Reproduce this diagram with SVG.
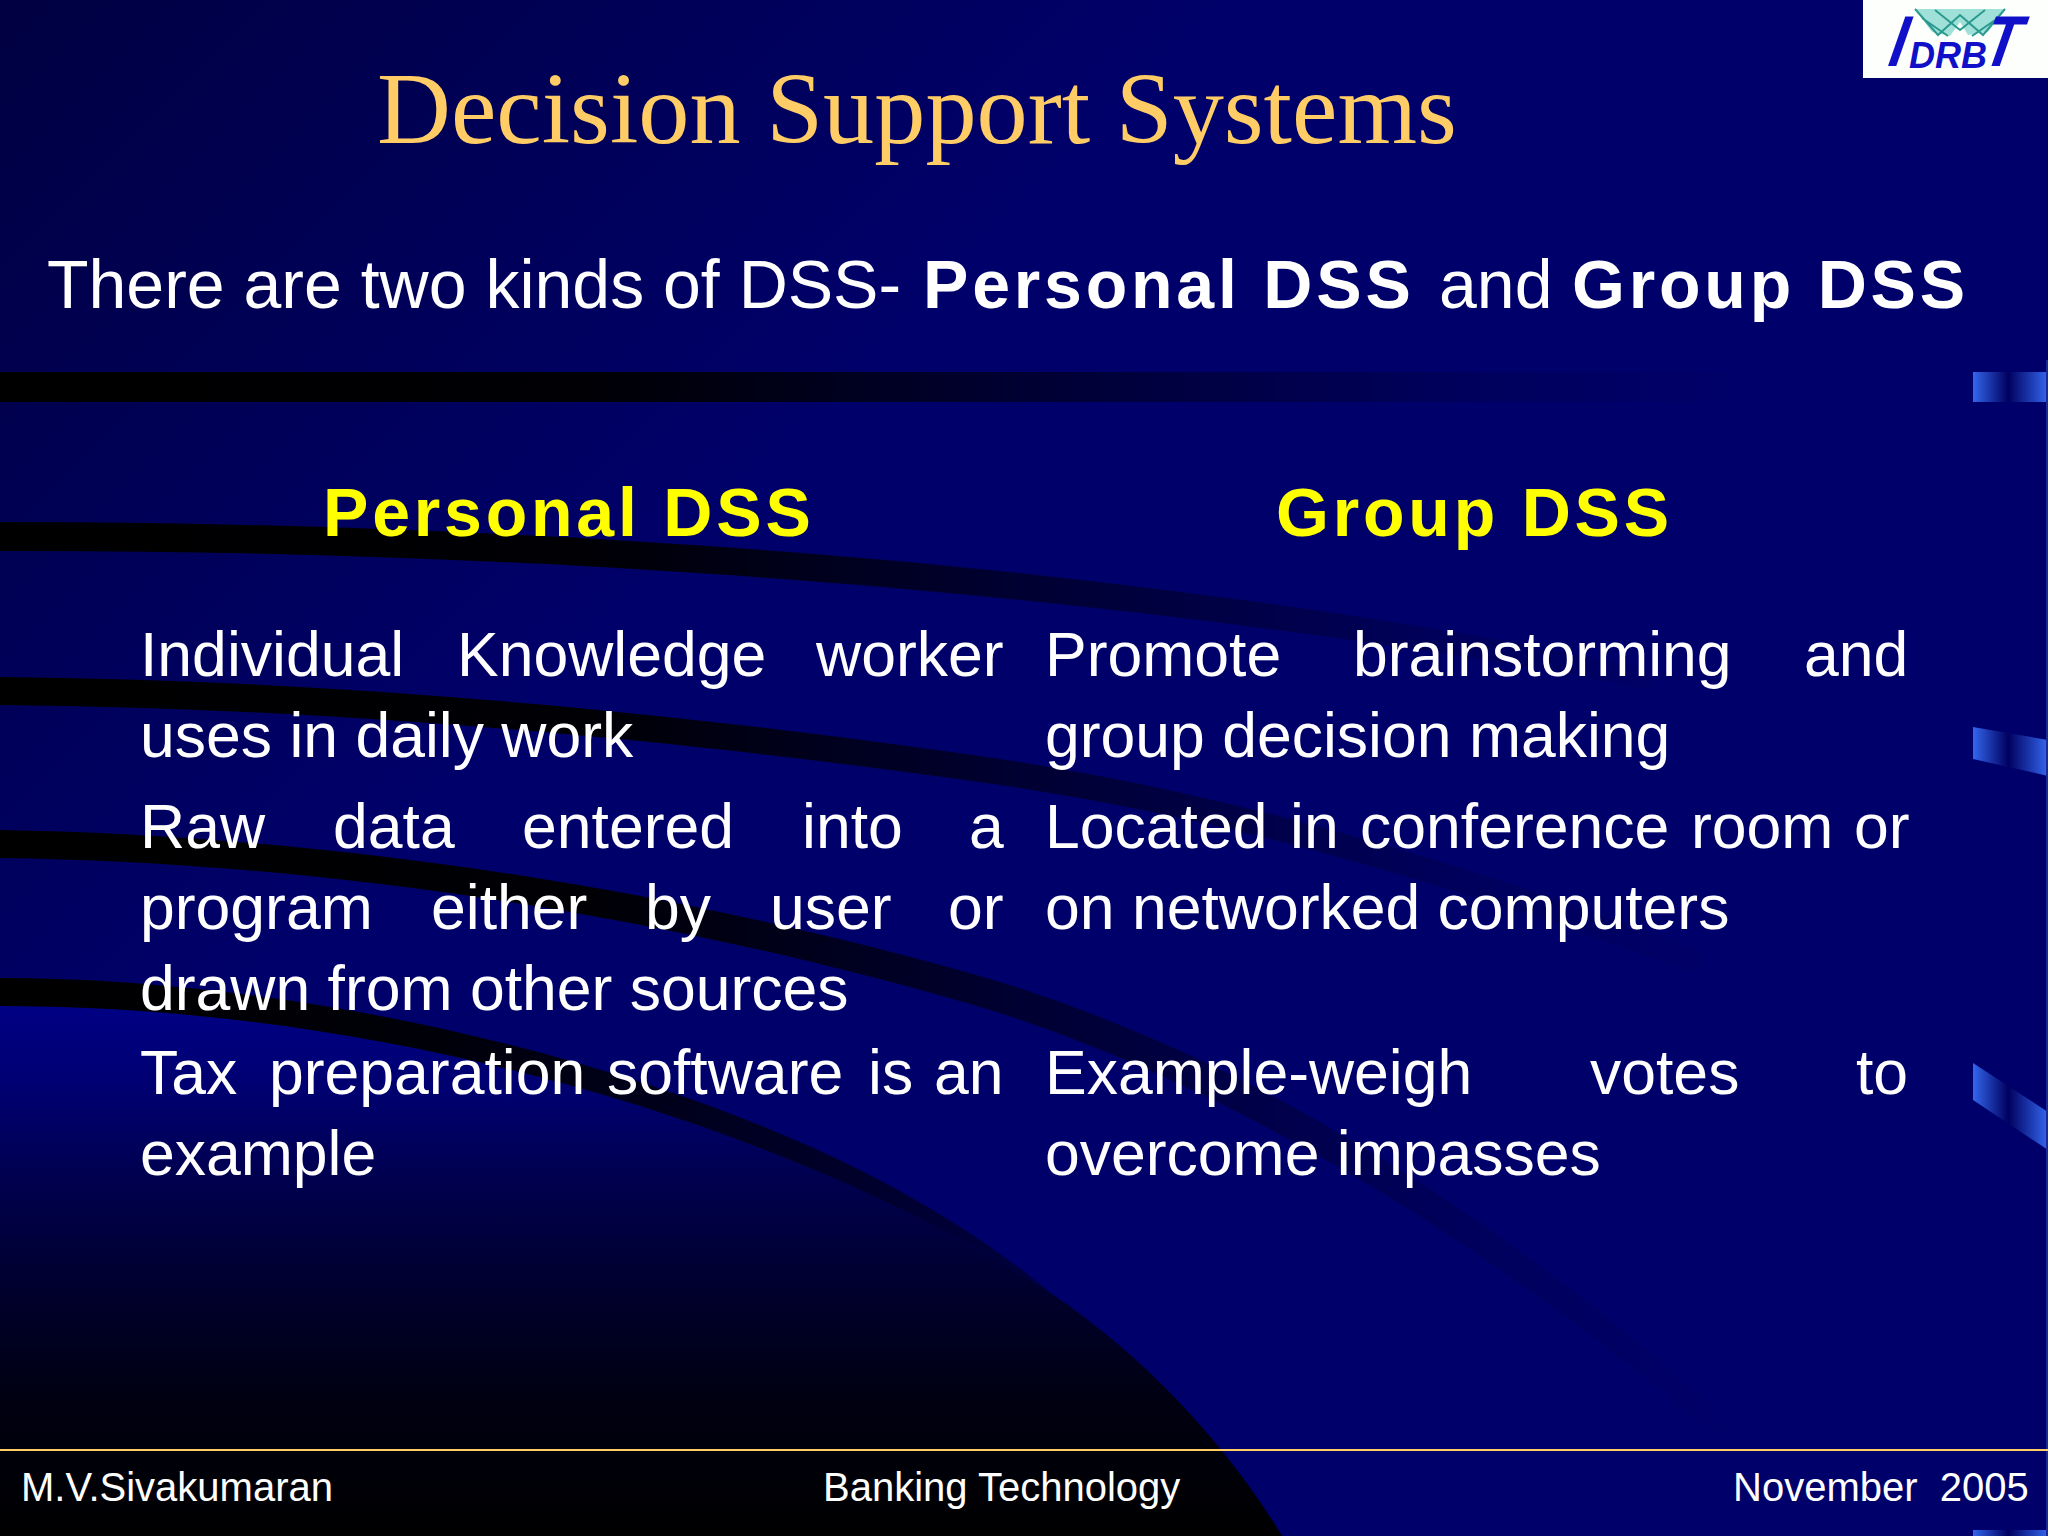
<svg xmlns="http://www.w3.org/2000/svg" width="2048" height="1536" viewBox="0 0 2048 1536">
<defs>
<linearGradient id="tl" gradientUnits="userSpaceOnUse" x1="0" y1="0" x2="620" y2="620"><stop offset="0" stop-color="#000" stop-opacity="0.38"/><stop offset="1" stop-color="#000" stop-opacity="0"/></linearGradient>
<linearGradient id="fade" gradientUnits="userSpaceOnUse" x1="0" y1="0" x2="1750" y2="0"><stop offset="0" stop-color="#000" stop-opacity="1"/><stop offset="0.34" stop-color="#000" stop-opacity="0.95"/><stop offset="0.57" stop-color="#000" stop-opacity="0.55"/><stop offset="0.83" stop-color="#000" stop-opacity="0.14"/><stop offset="1" stop-color="#000" stop-opacity="0"/></linearGradient>
<linearGradient id="low" gradientUnits="userSpaceOnUse" x1="0" y1="1006" x2="0" y2="1536"><stop offset="0" stop-color="#000084"/><stop offset="0.16" stop-color="#000070"/><stop offset="0.32" stop-color="#000050"/><stop offset="0.53" stop-color="#00002e"/><stop offset="0.74" stop-color="#000012"/><stop offset="1" stop-color="#000000"/></linearGradient>
<linearGradient id="b5" gradientUnits="userSpaceOnUse" x1="0" y1="0" x2="1052" y2="0"><stop offset="0" stop-color="#000000"/><stop offset="0.4" stop-color="#000008"/><stop offset="0.8" stop-color="#00002a"/><stop offset="1" stop-color="#000040"/></linearGradient>
<linearGradient id="tab" x1="0" y1="0" x2="1" y2="0"><stop offset="0" stop-color="#3366ee"/><stop offset="0.47" stop-color="#000060"/><stop offset="1" stop-color="#3366ee"/></linearGradient>
<style>
.b{font-family:"Liberation Sans",Arial,sans-serif;font-size:62.5px;fill:#fff}
.h{font-family:"Liberation Sans",Arial,sans-serif;font-size:68px;font-weight:bold;letter-spacing:3.8px}
.f{font-family:"Liberation Sans",Arial,sans-serif;font-size:40px;fill:#fff}
.l{font-family:"Liberation Sans",Arial,sans-serif;font-weight:bold;font-style:italic;fill:#1010c8}
.band{fill:url(#fade)}
</style>
</defs>
<g id="background">
<rect width="2048" height="1536" fill="#00006a"/>
<rect width="2048" height="1536" fill="url(#tl)"/>
<path d="M0 1006C400 1006 800 1130 1052 1294C1150 1360 1230 1450 1282 1536L0 1536Z" fill="url(#low)"/>
<path class="band" d="M0 372H1750V402H0Z"/>
<path class="band" d="M0 522C350 522 700 540 1000 571C1200 592 1450 625 1650 670L1650 690C1450 650 1200 618 1000 598C700 568 350 550 0 551Z"/>
<path class="band" d="M0 677C350 680 700 715 1000 759C1200 790 1400 840 1700 950L1700 975C1400 865 1200 815 1000 785C700 742 350 708 0 705Z"/>
<path class="band" d="M0 830C300 835 650 880 1000 982C1250 1060 1500 1210 1760 1449L1730 1449C1500 1250 1250 1095 1000 1013C650 908 300 862 0 858Z"/>
<path d="M0 978C300 978 640 1060 860 1170C930 1205 1000 1250 1052 1294C800 1130 400 1006 0 1006Z" fill="url(#b5)"/>
<path d="M1973 372H2048V402H1973Z" fill="url(#tab)"/>
<path d="M1973 727L2048 740V776L1973 759Z" fill="url(#tab)"/>
<path d="M1973 1063L2048 1112V1150L1973 1100Z" fill="url(#tab)"/>
<path d="M1973 1530H2048V1536H1973Z" fill="url(#tab)"/>
<rect x="2046" y="360" width="2" height="1176" fill="#1a2a9a"/>
</g>
<g id="logo">
<rect x="1863" y="0" width="185" height="78" fill="#fdfffd"/>
<path d="M1915 9H2005L1988 32L1968 35L1960 22L1950 36L1932 32Z" fill="#9fe0d8"/>
<path d="M1915 9L1938 35L1960 15L1983 35L2005 9M1922 18L1948 36M1998 18L1972 36M1935 10L1960 30L1985 10" fill="none" stroke="#2a9a90" stroke-width="2"/>
<text class="l" font-size="72" transform="translate(1887,66) skewX(-11) scale(.8,1)">I</text>
<text class="l" font-size="36" x="1909" y="68">DRB</text>
<text class="l" font-size="72" transform="translate(1981,66) skewX(-11) scale(.8,1)">T</text>
</g>
<g id="title"><text x="377" y="143" font-family="Liberation Serif,serif" font-size="102.3" fill="#ffcc66">Decision Support Systems</text></g>
<g id="intro"><text class="b" y="308" style="font-size:68px"><tspan x="47">There are two kinds of DSS-</tspan><tspan x="923" font-weight="bold" letter-spacing="3.8">Personal DSS</tspan><tspan x="1439">and</tspan><tspan x="1572" font-weight="bold" letter-spacing="3.8">Group DSS</tspan></text></g>
<g id="personal">
<text class="h" x="323" y="536" fill="#ffff00">Personal DSS</text>
<text class="b" y="676"><tspan x="140">Individual</tspan><tspan x="457">Knowledge</tspan><tspan x="816">worker</tspan></text>
<text class="b" x="140" y="757">uses in daily work</text>
<text class="b" y="848"><tspan x="140">Raw</tspan><tspan x="333">data</tspan><tspan x="522">entered</tspan><tspan x="802">into</tspan><tspan x="969">a</tspan></text>
<text class="b" y="929"><tspan x="140">program</tspan><tspan x="431">either</tspan><tspan x="645">by</tspan><tspan x="770">user</tspan><tspan x="948">or</tspan></text>
<text class="b" x="140" y="1010">drawn from other sources</text>
<text class="b" y="1094"><tspan x="140">Tax</tspan><tspan x="269">preparation</tspan><tspan x="607">software</tspan><tspan x="868">is</tspan><tspan x="934">an</tspan></text>
<text class="b" x="140" y="1175">example</text>
</g>
<g id="group">
<text class="h" x="1276" y="536" fill="#ffff00">Group DSS</text>
<text class="b" y="676"><tspan x="1045">Promote</tspan><tspan x="1353">brainstorming</tspan><tspan x="1804">and</tspan></text>
<text class="b" x="1045" y="757">group decision making</text>
<text class="b" y="848"><tspan x="1045">Located</tspan><tspan x="1290">in</tspan><tspan x="1360">conference</tspan><tspan x="1691">room</tspan><tspan x="1854">or</tspan></text>
<text class="b" x="1045" y="929">on networked computers</text>
<text class="b" y="1094"><tspan x="1045">Example-weigh</tspan><tspan x="1590">votes</tspan><tspan x="1856">to</tspan></text>
<text class="b" x="1045" y="1175">overcome impasses</text>
</g>
<g id="footer">
<rect x="0" y="1449" width="2048" height="2" fill="#ffcc66"/>
<text class="f" x="21" y="1501">M.V.Sivakumaran</text>
<text class="f" x="823" y="1501">Banking Technology</text>
<text class="f" x="1733" y="1501" xml:space="preserve">November  2005</text>
</g>
</svg>
